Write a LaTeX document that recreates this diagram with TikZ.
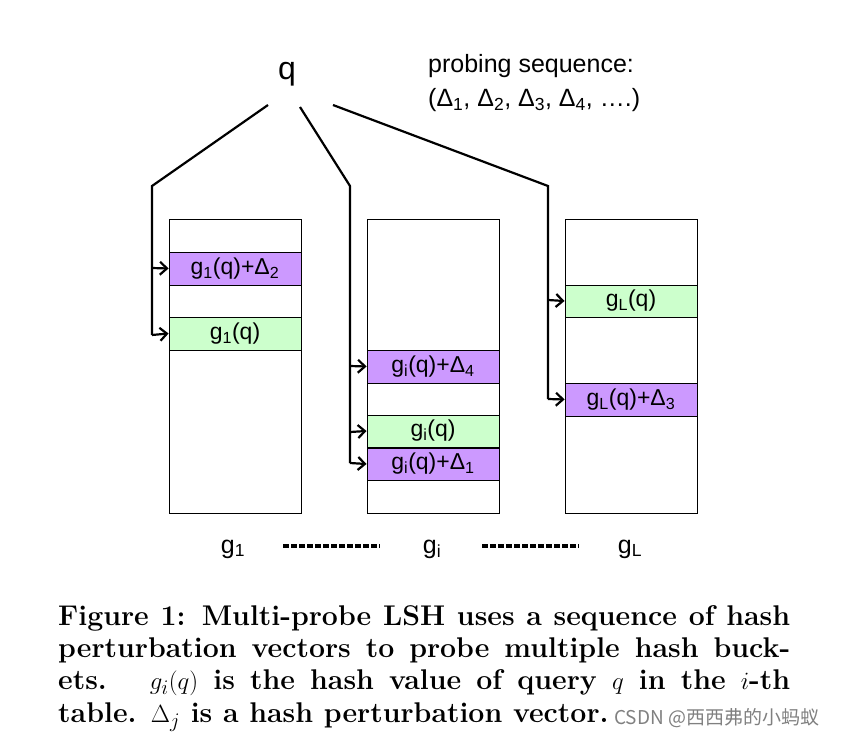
\documentclass[tikz,border=0pt]{standalone}
\usepackage{fontspec}
\newfontfamily\arialf{Liberation Sans}
\newfontfamily\cjk{Noto Sans CJK SC}
\usetikzlibrary{arrows.meta}
\definecolor{pur}{HTML}{CC99FF}
\definecolor{grn}{HTML}{CCFFCC}
\begin{document}
\begin{tikzpicture}[x=1pt,y=-1pt,
  tab/.style={draw,line width=0.9pt},
  cell/.style={draw,line width=0.9pt,minimum width=132pt,inner sep=0pt,font=\arialf\fontsize{23}{23}\selectfont},
  P/.style={cell,fill=pur}, G/.style={cell,fill=grn},
  ln/.style={line width=2.2pt},
  ar/.style={ln,-{Straight Barb[length=7pt,width=13pt]}},
  lab/.style={font=\arialf\fontsize{25}{25}\selectfont,inner sep=0pt}]
\useasboundingbox (0,0) rectangle (843,739);
\newcommand\sbx[1]{\textsubscript{#1}}
% tables
\node[tab,minimum width=132pt,minimum height=294pt,inner sep=0pt] (t1) at (235,366) {};
\node[tab,minimum width=132pt,minimum height=294pt,inner sep=0pt] (t2) at (433,366) {};
\node[tab,minimum width=132pt,minimum height=294pt,inner sep=0pt] (t3) at (631,366) {};
\node[P,minimum height=33pt] (a1) at (235,268.5) {g\sbx{1}(q)+Δ\sbx{2}};
\node[G,minimum height=33pt] (a2) at (235,333.5) {g\sbx{1}(q)};
\node[P,minimum height=33pt] (b1) at (433,366.5) {g\sbx{i}(q)+Δ\sbx{4}};
\node[G,minimum height=32pt] (b2) at (433,431) {g\sbx{i}(q)};
\node[P,minimum height=32pt] (b3) at (433,464) {g\sbx{i}(q)+Δ\sbx{1}};
\node[G,minimum height=32pt] (c1) at (631,301) {g\sbx{L}(q)};
\node[P,minimum height=33pt] (c2) at (631,399.5) {g\sbx{L}(q)+Δ\sbx{3}};
% query
\node[font=\arialf\fontsize{32}{32}\selectfont] (q) at (287,74) {q};
\coordinate (s1) at (268,105); \coordinate (s2) at (300,107); \coordinate (s3) at (333,105);
\coordinate (k1) at (152,186); \coordinate (k2) at (350,186); \coordinate (k3) at (548,186);
\draw[ln] (s1) -- (k1) -- (152,335);
\draw[ln] (s2) -- (k2) -- (350,463);
\draw[ln] (s3) -- (k3) -- (548,399);
\draw[ar] (152,268) -- (a1.west);
\draw[ar] (152,335) -- (a2.west);
\draw[ar] (350,366) -- (b1.west);
\draw[ar] (350,432) -- (b2.west);
\draw[ar] (350,463) -- (b3.west);
\draw[ar] (548,300) -- (c1.west);
\draw[ar] (548,399) -- (c2.west);
% probing
\node[lab,anchor=west] (p1) at (428,66) {probing sequence:};
\node[lab,anchor=west] (p2) at (428,100) {(Δ\sbx{1}, Δ\sbx{2}, Δ\sbx{3}, Δ\sbx{4}, ….)};
% bottom labels
\node[lab] (l1) at (233,549) {g\sbx{1}};
\node[lab] (l2) at (432,549) {g\sbx{i}};
\node[lab] (l3) at (630,549) {g\sbx{L}};
\draw[line width=4pt,dash pattern=on 6pt off 2pt] (283,546) -- (380,546);
\draw[line width=4pt,dash pattern=on 6pt off 2pt] (482,546) -- (579,546);
% caption
\node[anchor=north west,inner sep=0pt,align=left,font=\fontsize{28.5}{32.3}\selectfont\bfseries] (cap) at (58,605) {%
\makebox[732pt][s]{Figure 1: Multi-probe LSH uses a sequence of hash}\\
\makebox[732pt][s]{perturbation vectors to probe multiple hash buck-}\\
\makebox[732pt][s]{ets. \ $g_i(q)$ is the hash value of query $q$ in the $i$-th}\\
table. $\Delta_j$ is a hash perturbation vector.};
\node[anchor=west,inner sep=0pt,text=gray,font=\cjk\fontsize{19}{19}\selectfont] (wm) at (614,718) {CSDN @西西弗的小蚂蚁};
\end{tikzpicture}
\end{document}
